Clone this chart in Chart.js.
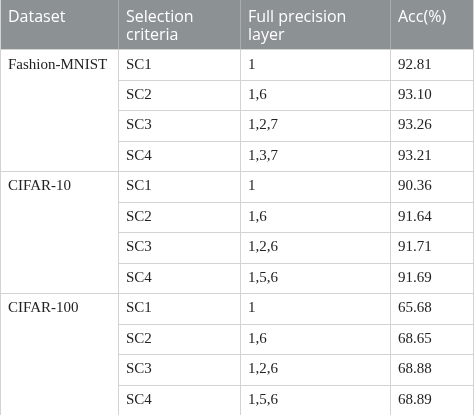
<!DOCTYPE html>
<html>
<head>
<meta charset="utf-8">
<script src="https://cdn.jsdelivr.net/npm/chart.js@4"></script>
<style>
  html, body { margin: 0; padding: 0; background: #fff; }
  #wrap { width: 474px; height: 415px; }
</style>
</head>
<body>
<div id="wrap"><canvas id="c"></canvas></div>
<script>
const headers = [['Dataset'], ['Selection', 'criteria'], ['Full precision', 'layer'], ['Acc(%)']];
const datasets = ['Fashion-MNIST', 'CIFAR-10', 'CIFAR-100'];
const criteria = ['SC1', 'SC2', 'SC3', 'SC4'];
const layers = [
  ['1', '1,6', '1,2,7', '1,3,7'],
  ['1', '1,6', '1,2,6', '1,5,6'],
  ['1', '1,6', '1,2,6', '1,5,6'],
];
const acc = [
  ['92.81', '93.10', '93.26', '93.21'],
  ['90.36', '91.64', '91.71', '91.69'],
  ['65.68', '68.65', '68.88', '68.89'],
];

// column edges in x units, header takes HEAD rows in y units
const colEdges = [0, 118, 240, 390, 474];
const HEAD = 1.62;
const nRows = datasets.length * criteria.length;

const tablePlugin = {
  id: 'table',
  afterDraw(chart) {
    const ctx = chart.ctx;
    const x = chart.scales.x, y = chart.scales.y;
    const px = v => x.getPixelForValue(v);
    const py = v => y.getPixelForValue(v);
    ctx.save();
    // header
    ctx.fillStyle = '#8c9193';
    ctx.fillRect(px(0), py(0), px(474) - px(0), py(HEAD) - py(0));
    ctx.fillStyle = '#fff';
    ctx.font = '16px "Open Sans"';
    ctx.textBaseline = 'middle';
    headers.forEach((h, i) => {
      h.forEach((t, k) => ctx.fillText(t, px(colEdges[i]) + 8, py(0) + 17 + k * 18));
    });
    // grid
    ctx.strokeStyle = '#d3d3d3';
    ctx.lineWidth = 1;
    for (let r = 0; r <= nRows; r++) {
      const yy = Math.round(py(HEAD + r)) + 0.5;
      const startCol = r % criteria.length === 0 ? 0 : 1;
      ctx.beginPath();
      ctx.moveTo(px(colEdges[startCol]), yy);
      ctx.lineTo(px(474), yy);
      ctx.stroke();
    }
    colEdges.forEach(e => {
      const xx = Math.min(Math.round(px(e)) + 0.5, px(474) - 0.5);
      ctx.beginPath();
      ctx.moveTo(xx, py(0));
      ctx.lineTo(xx, py(HEAD + nRows));
      ctx.stroke();
    });
    ctx.strokeStyle = '#a9adaf';
    [1, 2, 3].forEach(i => {
      const xx = Math.round(px(colEdges[i])) + 0.5;
      ctx.beginPath(); ctx.moveTo(xx, py(0)); ctx.lineTo(xx, py(HEAD)); ctx.stroke();
    });
    // body
    ctx.fillStyle = '#222';
    ctx.font = '15px "Liberation Serif"';
    datasets.forEach((d, g) => {
      criteria.forEach((c, k) => {
        const r = g * criteria.length + k;
        const cy = py(HEAD + r + 0.5);
        if (k === 0) ctx.fillText(d, px(colEdges[0]) + 8, cy);
        ctx.fillText(c, px(colEdges[1]) + 8, cy);
        ctx.fillText(layers[g][k], px(colEdges[2]) + 8, cy);
        ctx.fillText(acc[g][k], px(colEdges[3]) + 8, cy);
      });
    });
    ctx.restore();
  }
};

new Chart(document.getElementById('c'), {
  type: 'scatter',
  data: { datasets: [{ data: [] }] },
  options: {
    responsive: true,
    maintainAspectRatio: false,
    animation: false,
    layout: { padding: 0 },
    plugins: { legend: { display: false }, tooltip: { enabled: false } },
    scales: {
      x: { type: 'linear', min: 0, max: 474, display: false },
      y: { type: 'linear', min: 0, max: HEAD + nRows, reverse: true, display: false },
    },
  },
  plugins: [tablePlugin],
});
</script>
</body>
</html>
